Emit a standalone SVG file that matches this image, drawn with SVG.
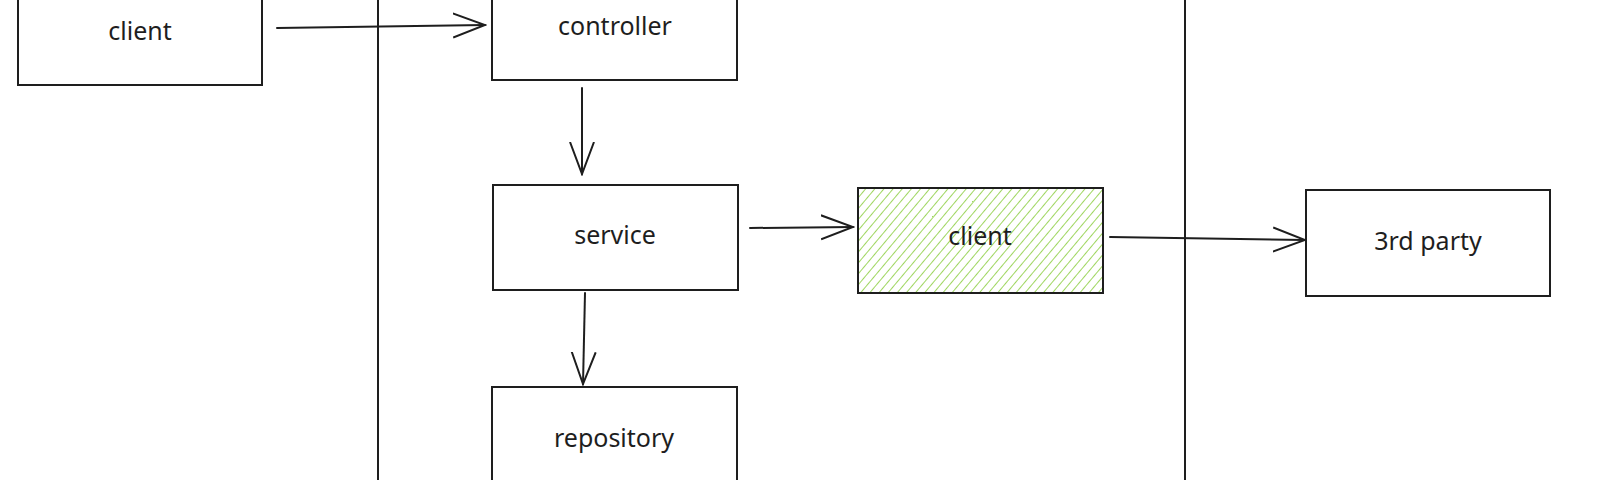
<svg xmlns="http://www.w3.org/2000/svg" width="1600" height="480" viewBox="0 0 1600 480">
<style>
.box{fill:none;stroke:#1e1e1e;stroke-width:2}
.t{font-family:"Noto Sans",sans-serif;font-size:25px;fill:#1e1e1e;text-anchor:middle;dominant-baseline:middle}
.c{stroke:#1e1e1e;stroke-width:2;fill:none;stroke-linecap:round}
</style>
<defs>
<pattern id="h" width="7" height="7" patternUnits="userSpaceOnUse" patternTransform="rotate(40)">
<line x1="0" y1="0" x2="0" y2="7" stroke="#7ec82a" stroke-width="1.5"/>
</pattern>
<marker id="a" markerWidth="34" markerHeight="28" refX="32" refY="14" orient="auto" markerUnits="userSpaceOnUse">
<path d="M0,2 L32,14 L0,26" fill="none" stroke="#1e1e1e" stroke-width="2"/>
</marker>
</defs>
<rect width="1600" height="480" fill="#fff"/>
<g id="lanes">
<line class="c" x1="378" y1="0" x2="378" y2="480"/>
<line class="c" x1="1185" y1="0" x2="1185" y2="480"/>
</g>
<g id="client1"><rect class="box" x="18" y="-20" width="244" height="105"/><text class="t" x="140" y="33">client</text></g>
<g id="controller"><rect class="box" x="492" y="-25" width="245" height="105"/><text class="t" x="615" y="28">controller</text></g>
<g id="service"><rect class="box" x="493" y="185" width="245" height="105"/><text class="t" x="615" y="237">service</text></g>
<g id="client2"><rect x="858" y="188" width="245" height="105" fill="url(#h)"/><rect class="box" x="858" y="188" width="245" height="105"/><text class="t" x="980" y="238">client</text></g>
<g id="thirdparty"><rect class="box" x="1306" y="190" width="244" height="106"/><text class="t" x="1428" y="243">3rd party</text></g>
<g id="repository"><rect class="box" x="492" y="387" width="245" height="120"/><text class="t" x="614" y="440">repository</text></g>
<g id="connectors">
<line class="c" x1="277" y1="28" x2="485" y2="25" marker-end="url(#a)"/>
<line class="c" x1="582" y1="88" x2="582" y2="174" marker-end="url(#a)"/>
<line class="c" x1="750" y1="228" x2="853" y2="227" marker-end="url(#a)"/>
<line class="c" x1="1110" y1="237" x2="1305" y2="240" marker-end="url(#a)"/>
<line class="c" x1="585" y1="293" x2="583" y2="384" marker-end="url(#a)"/>
</g>
</svg>
